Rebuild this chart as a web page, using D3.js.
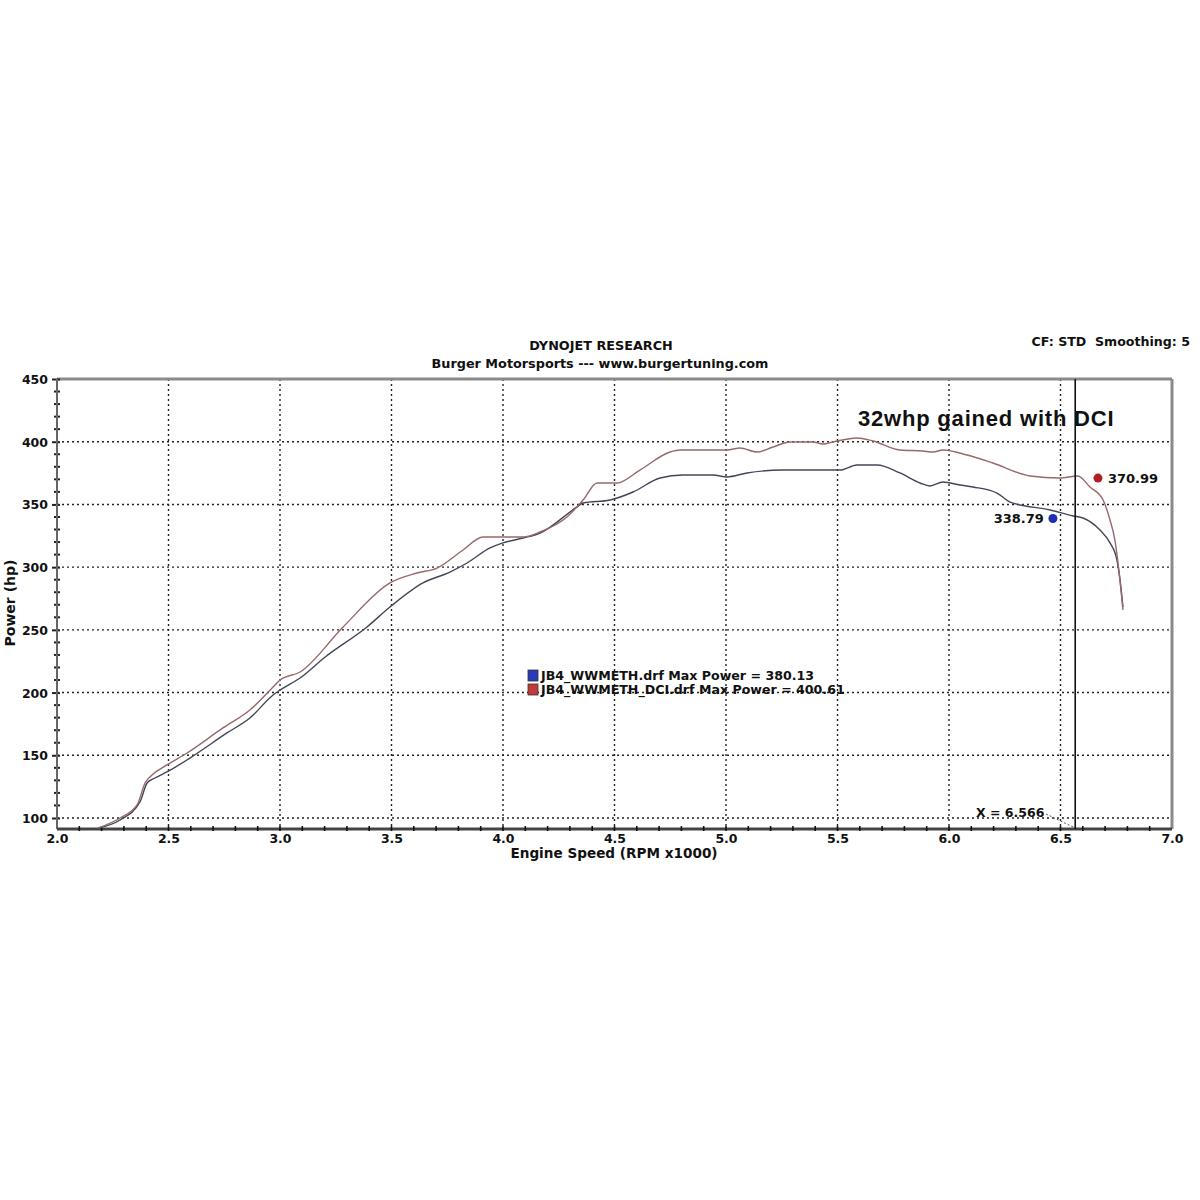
<!DOCTYPE html>
<html>
<head>
<meta charset="utf-8">
<script src="https://cdn.jsdelivr.net/npm/d3@7"></script>
<style>
  body { margin: 0; background: #fff; }
  svg text { font-family: "DejaVu Sans", Verdana, sans-serif; font-weight: bold; fill: #111; }
</style>
</head>
<body>
<svg id="chart" width="1200" height="1200"></svg>
<script>
// engine speed (RPM x1000) / power (hp)
var baseRpm = [2.184, 2.283, 2.372, 2.404, 2.439, 2.493, 2.596, 2.762, 2.865, 2.969, 3.0, 3.09, 3.2, 3.39,
  3.493, 3.641, 3.762, 3.839, 3.942, 4.0, 4.09, 4.166, 4.332, 4.359, 4.48, 4.583, 4.704, 4.807, 4.942, 5.004,
  5.094, 5.256, 5.408, 5.511, 5.587, 5.677, 5.78, 5.87, 5.915, 5.973, 6.049, 6.108, 6.215, 6.274, 6.453,
  6.556, 6.601, 6.677, 6.722, 6.753, 6.767, 6.78];
var baseHp = [92.0, 98.4, 112.8, 127.9, 131.9, 136.7, 147.8, 167.8, 179.7, 198.1, 202.0, 211.6, 228, 252.3,
  268.2, 287.4, 296.1, 303.3, 315.3, 319.3, 323.2, 327.2, 348.0, 351.1, 353.5, 359.9, 371.1, 373.5, 373.5, 371.9,
  375.1, 377.4, 377.4, 377.4, 381.4, 381.4, 375.1, 367.1, 364.7, 367.9, 365.5, 363.9, 359.1, 351.9, 345.6,
  340.8, 339.2, 329.6, 319.3, 305.7, 289.8, 268.2];

var dciRpm = [2.184, 2.283, 2.359, 2.395, 2.426, 2.493, 2.583, 2.744, 2.865, 2.969, 3.0, 3.09, 3.283, 3.493,
  3.614, 3.704, 3.821, 3.91, 4.0, 4.09, 4.166, 4.287, 4.359, 4.422, 4.511, 4.614, 4.749, 4.794, 5.004, 5.063,
  5.139, 5.211, 5.287, 5.39, 5.435, 5.48, 5.587, 5.659, 5.78, 5.883, 5.928, 5.973, 6.081, 6.197, 6.363,
  6.498, 6.578, 6.632, 6.691, 6.722, 6.744, 6.758, 6.78];
var dciHp = [92.0, 100.0, 110.4, 127.9, 134.3, 142.3, 151.8, 171.8, 186.1, 204.4, 210.0, 216.4, 252.3, 287.4,
  295.3, 299.3, 313.7, 324.0, 324.0, 324.0, 328.0, 340.0, 353.5, 367.1, 367.1, 377.4, 391.8, 393.4, 393.4, 395.0,
  391.8, 395.8, 399.8, 399.8, 398.2, 399.8, 403.0, 400.6, 393.4, 392.6, 391.8, 393.4, 389.4, 383.0, 372.7,
  371.1, 372.7, 363.9, 353.5, 337.6, 321.6, 303.3, 265.8];

var xTicks = [2.0, 2.5, 3.0, 3.5, 4.0, 4.5, 5.0, 5.5, 6.0, 6.5, 7.0];
var yTicks = [100, 150, 200, 250, 300, 350, 400, 450];

var legendNames = ['JB4_WWMETH.drf Max Power = 380.13', 'JB4_WWMETH_DCI.drf Max Power = 400.61'];
var cursorRpm = 6.566;
var markerRpm = [6.466, 6.668];
var markerHp = [338.79, 370.99];
var yFloor = 91.2;

(function drawDyno() {
  var svg = d3.select('#chart');
  var left = 57, right = 1172, top = 379;

  var x = d3.scaleLinear().domain([2, 7]).range([left, right]);
  var y = d3.scaleLinear().domain([100, 450]).range([818, top]);
  var bottom = y(yFloor);

  var blue = '#45455a', red = '#96696a';

  // titles
  svg.append('text').attr('x', 601).attr('y', 350).attr('text-anchor', 'middle')
    .style('font-size', '12.8px').text('DYNOJET RESEARCH');
  svg.append('text').attr('x', 600).attr('y', 368).attr('text-anchor', 'middle')
    .style('font-size', '12.8px').text('Burger Motorsports --- www.burgertuning.com');
  svg.append('text').attr('x', 1190).attr('y', 346).attr('text-anchor', 'end')
    .style('font-size', '12.6px').attr('xml:space', 'preserve').text('CF: STD  Smoothing: 5');

  // dotted grid
  var grid = svg.append('g')
    .attr('stroke', '#222').attr('stroke-width', 1.4).attr('stroke-dasharray', '2,3');
  grid.selectAll('line.h').data(yTicks.slice(0, -1)).enter().append('line')
    .attr('x1', left).attr('x2', right)
    .attr('y1', function(d) { return y(d); }).attr('y2', function(d) { return y(d); });
  grid.selectAll('line.v').data(xTicks.slice(1, -1)).enter().append('line')
    .attr('y1', top).attr('y2', bottom)
    .attr('x1', function(d) { return x(d); }).attr('x2', function(d) { return x(d); });

  // frame top / right
  svg.append('line').attr('x1', left).attr('x2', right).attr('y1', top).attr('y2', top)
    .attr('stroke', '#8a8a8a').attr('stroke-width', 3);
  svg.append('line').attr('x1', right).attr('x2', right).attr('y1', top).attr('y2', bottom)
    .attr('stroke', '#8a8a8a').attr('stroke-width', 3);

  // y axis
  var yAxis = d3.axisLeft(y).tickValues(yTicks).tickSize(5).tickFormat(d3.format('d'));
  var ya = svg.append('g').attr('transform', 'translate(' + left + ',0)').call(yAxis);
  ya.select('.domain').remove();
  ya.selectAll('.tick line').attr('stroke', '#222').attr('stroke-width', 2).attr('x2', -5).attr('x1', 3);
  ya.selectAll('.tick text').attr('x', -9).attr('dy', '0.36em')
    .style('font-size', '12.5px').style('font-family', '"DejaVu Sans", sans-serif').style('font-weight', 'bold');
  var yMinor = d3.range(100, 450, 10).filter(function(d) { return d % 50 !== 0; });
  svg.append('g').selectAll('line').data(yMinor).enter().append('line')
    .attr('x1', left - 3).attr('x2', left + 3)
    .attr('y1', function(d) { return y(d); }).attr('y2', function(d) { return y(d); })
    .attr('stroke', '#222').attr('stroke-width', 2);
  svg.append('line').attr('x1', left).attr('x2', left).attr('y1', top).attr('y2', bottom)
    .attr('stroke', '#666').attr('stroke-width', 2);

  // x axis
  var xAxis = d3.axisBottom(x).tickValues(xTicks).tickSize(0).tickFormat(d3.format('.1f'));
  var xa = svg.append('g').attr('transform', 'translate(0,' + bottom + ')').call(xAxis);
  xa.select('.domain').remove();
  xa.selectAll('.tick text').attr('y', 5)
    .style('font-size', '12.5px').style('font-family', '"DejaVu Sans", sans-serif').style('font-weight', 'bold');
  svg.append('line').attr('x1', left).attr('x2', right).attr('y1', bottom).attr('y2', bottom)
    .attr('stroke', '#444').attr('stroke-width', 3);
  var xMinor = d3.range(21, 70, 1).map(function(d) { return d / 10; });
  svg.append('g').selectAll('line').data(xMinor).enter().append('line')
    .attr('x1', function(d) { return x(d); }).attr('x2', function(d) { return x(d); })
    .attr('y1', bottom - 3).attr('y2', bottom + 2)
    .attr('stroke', '#111').attr('stroke-width', 1.6);

  // axis titles
  svg.append('text').attr('x', 614).attr('y', 858).attr('text-anchor', 'middle')
    .style('font-size', '13.6px').text('Engine Speed (RPM x1000)');
  svg.append('text').attr('transform', 'translate(15,603) rotate(-90)').attr('text-anchor', 'middle')
    .style('font-size', '14px').text('Power (hp)');

  // curves
  var line = d3.line().curve(d3.curveMonotoneX)
    .x(function(d) { return x(d[0]); }).y(function(d) { return y(d[1]); });
  svg.append('path').datum(d3.zip(baseRpm, baseHp)).attr('d', line)
    .attr('fill', 'none').attr('stroke', blue).attr('stroke-width', 1.4);
  svg.append('path').datum(d3.zip(dciRpm, dciHp)).attr('d', line)
    .attr('fill', 'none').attr('stroke', red).attr('stroke-width', 1.4);

  // cursor
  svg.append('line').attr('x1', x(cursorRpm)).attr('x2', x(cursorRpm)).attr('y1', top).attr('y2', bottom)
    .attr('stroke', '#111').attr('stroke-width', 1.6);
  svg.append('text').attr('x', 976).attr('y', 817).style('font-size', '12.5px').text('X = 6.566');
  svg.append('line').attr('x1', 1046).attr('y1', 814).attr('x2', x(cursorRpm) - 2).attr('y2', bottom - 2)
    .attr('stroke', '#555').attr('stroke-width', 1).attr('stroke-dasharray', '2,2');

  // cursor markers
  var markerColors = ['#1f2fb0', '#b01f25'];
  svg.selectAll('circle.mk').data(d3.range(markerRpm.length)).enter().append('circle')
    .attr('cx', function(i) { return x(markerRpm[i]); })
    .attr('cy', function(i) { return y(markerHp[i]); })
    .attr('r', 4.5).attr('fill', function(i) { return markerColors[i]; });
  svg.append('text').attr('x', x(markerRpm[0]) - 9).attr('y', y(markerHp[0]) + 5).attr('text-anchor', 'end')
    .style('font-size', '13px').text(markerHp[0].toFixed(2));
  svg.append('text').attr('x', x(markerRpm[1]) + 10).attr('y', y(markerHp[1]) + 5)
    .style('font-size', '13px').text(markerHp[1].toFixed(2));

  // legend
  var legendFill = ['#2a3ab8', '#c23a3a'];
  var lg = svg.append('g').attr('transform', 'translate(528,670)');
  legendNames.forEach(function(name, i) {
    lg.append('rect').attr('x', 0).attr('y', i * 14).attr('width', 10).attr('height', 11)
      .attr('fill', legendFill[i]).attr('stroke', '#333').attr('stroke-width', 0.8);
    lg.append('text').attr('x', 13).attr('y', i * 14 + 10).style('font-size', '12.6px').text(name);
  });

  // annotation
  svg.append('text').attr('x', 858).attr('y', 426)
    .style('font-family', '"Liberation Sans", Arial, sans-serif').style('font-size', '22px')
    .style('letter-spacing', '0.8px')
    .text('32whp gained with DCI');
})();
</script>
</body>
</html>
